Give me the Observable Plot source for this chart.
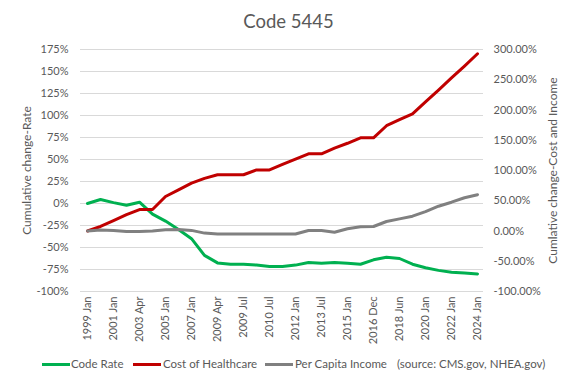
<!DOCTYPE html>
<html><head><meta charset="utf-8">
<script src="https://cdn.jsdelivr.net/npm/d3@7"></script>
<script src="https://cdn.jsdelivr.net/npm/@observablehq/plot@0.6"></script>
<style>
body{margin:0;background:#fff;font-family:Lato,"Open Sans",sans-serif;}
#wrap{width:577px;height:384px;position:relative;overflow:hidden;background:#fff;}
#title{height:32px;line-height:43px;text-align:center;font-size:18.5px;color:#595959;}
#chart svg{display:block;}
#legend{position:absolute;top:351px;left:0;width:577px;height:26px;font-size:11.5px;color:#595959;}
#legend .sw{position:absolute;top:12px;height:3px;width:28px;}
#legend .tx{position:absolute;top:5px;line-height:16px;white-space:nowrap;}
</style>
</head><body>
<div id="wrap">
  <div id="title">Code 5445</div>
  <div id="chart"></div>
  <div id="legend"></div>
</div>
<script>
const categories = ["1999 Jan","2000 Jan","2001 Jan","2002 Jan","2003 Apr","2004 Jan","2005 Jan","2006 Jan","2007 Jan","2008 Jan","2009 Apr","2009 May","2009 Jul","2010 Jan","2010 Jul","2011 Jan","2012 Jan","2012 Oct","2013 Jul","2014 Jan","2015 Jan","2016 Jan","2016 Dec","2017 Jul","2018 Jun","2019 Jan","2020 Jan","2021 Jan","2022 Jan","2023 Jan","2024 Jan"];
// Left axis (%)
const codeRate = [0, 4.5, 1, -2, 1.5, -12, -20, -29.5, -40, -59, -67.5, -69, -69, -70, -71.5, -71.5, -70, -67, -68, -67, -68, -69, -64, -61, -62.5, -69, -73, -76, -78, -79, -80];
// Right axis (%)
const costHealthcare = [0, 7.5, 17, 27, 35.5, 35.5, 57, 68, 79, 87, 93, 93, 93, 101, 101, 110, 118.7, 127.6, 127.6, 137, 145, 154, 154, 174, 184, 193.7, 213.5, 233, 253, 272.6, 293];
const perCapitaIncome = [0, 1.5, 1, -1, -1, 0, 2, 2.5, 1, -3.5, -5, -5, -5, -5, -5, -5, -5, 0.8, 0.8, -2, 3.6, 7, 7.4, 15.7, 20, 24.5, 32, 41, 47.6, 55, 60];

const leftTicks = [-100,-75,-50,-25,0,25,50,75,100,125,150,175];
const rightTicks = [-100,-50,0,50,100,150,200,250,300];
const xTickLabels = categories.filter((d,i) => i % 2 === 0);

const seriesNames = ["Code Rate","Cost of Healthcare","Per Capita Income"];
const seriesColors = ["#00b050","#c00000","#808080"];

// map right-axis value onto left-axis domain
const L0 = -100, L1 = 175, R0 = -100, R1 = 300;
const toLeft = v => L0 + (v - R0) * (L1 - L0) / (R1 - R0);
const rightLabelMap = new Map(rightTicks.map(v => [Math.round(toLeft(v)*1000), v.toFixed(2) + "%"]));

const rows = categories.map((c,i) => ({c, rate: codeRate[i], cost: toLeft(costHealthcare[i]), inc: toLeft(perCapitaIncome[i])}));

const txt = "#595959";
const chart = Plot.plot({
  width: 577,
  height: 318,
  marginLeft: 80,
  marginRight: 94,
  marginTop: 17,
  marginBottom: 59,
  style: {fontFamily: "Lato, 'Open Sans', sans-serif", fontSize: "11px", color: txt, background: "#fff"},
  x: {type: "point", domain: categories, padding: 0.5},
  y: {domain: [L0, L1]},
  marks: [
    Plot.gridY(leftTicks, {stroke: "#d9d9d9", strokeOpacity: 1}),
    Plot.axisY(leftTicks, {anchor: "left", tickSize: 0, tickPadding: 12, tickFormat: d => d + "%", fill: txt, label: null}),
    Plot.axisY(rightTicks.map(toLeft), {anchor: "right", tickSize: 0, tickPadding: 10, tickFormat: d => rightLabelMap.get(Math.round(d*1000)), fill: txt, label: null}),
    Plot.axisX(xTickLabels, {anchor: "bottom", tickSize: 0, tickPadding: 5, tickRotate: -90, fill: txt, label: null}),
    Plot.text(["Cumulative change-Rate"], {frameAnchor: "left", dx: -53, rotate: -90, textAnchor: "middle", lineAnchor: "middle", fill: txt, fontSize: 12}),
    Plot.text(["Cumlative change-Cost and Income"], {frameAnchor: "right", dx: 70, rotate: -90, textAnchor: "middle", lineAnchor: "middle", fill: txt, fontSize: 12}),
    Plot.line(rows, {x: "c", y: "rate", stroke: seriesColors[0], strokeWidth: 3}),
    Plot.line(rows, {x: "c", y: "cost", stroke: seriesColors[1], strokeWidth: 3}),
    Plot.line(rows, {x: "c", y: "inc", stroke: seriesColors[2], strokeWidth: 3})
  ]
});
document.getElementById("chart").appendChild(chart);

const legend = document.getElementById("legend");
const swatchX = [42, 133, 265];
const textX = [71, 163, 295];
seriesNames.forEach((n,i) => {
  const s = document.createElement("div"); s.className = "sw"; s.style.left = swatchX[i] + "px"; s.style.background = seriesColors[i]; legend.appendChild(s);
  const t = document.createElement("div"); t.className = "tx"; t.style.left = textX[i] + "px"; t.textContent = n; legend.appendChild(t);
});
const src = document.createElement("div"); src.className = "tx"; src.style.left = "397px"; src.textContent = "(source: CMS.gov, NHEA.gov)"; legend.appendChild(src);
</script>
</body></html>
